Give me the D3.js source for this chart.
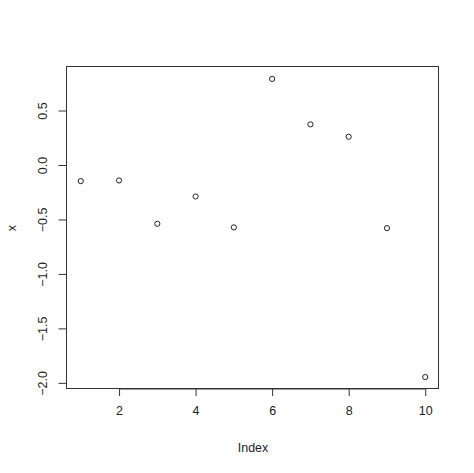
<!DOCTYPE html>
<html>
<head>
<meta charset="utf-8">
<script src="https://cdn.jsdelivr.net/npm/d3@7"></script>
<style>
  body { margin: 0; background: #fff; }
  svg { display: block; }
  text { font-family: "Liberation Sans", Arial, sans-serif; fill: #222; }
</style>
</head>
<body>
<div id="chart"></div>
<script>
// values
const index = [1, 2, 3, 4, 5, 6, 7, 8, 9, 10];
const xValues = [-0.148, -0.142, -0.540, -0.289, -0.573, 0.790, 0.373, 0.259, -0.580, -1.947];
const xTicks = [2, 4, 6, 8, 10];
const yTicks = [-2.0, -1.5, -1.0, -0.5, 0.0, 0.5];

const width = 474, height = 473;
const box = {left: 67, right: 439, top: 67, bottom: 389};

var svg = d3.select("#chart")
    .append("svg")
    .attr("width", width)
    .attr("height", height);

// R style 4% extension of the data range
var xr = d3.extent(index), yr = d3.extent(xValues);
var xPad = (xr[1] - xr[0]) * 0.04, yPad = (yr[1] - yr[0]) * 0.04;

var x = d3.scaleLinear()
    .domain([xr[0] - xPad, xr[1] + xPad])
    .range([box.left, box.right]);

var y = d3.scaleLinear()
    .domain([yr[0] - yPad, yr[1] + yPad])
    .range([box.bottom, box.top]);

// bottom axis (only spans the ticks, like base R)
var xAxis = svg.append("g")
    .attr("transform", `translate(0, ${box.bottom})`)
    .call(d3.axisBottom(x).tickValues(xTicks).tickSize(7).tickPadding(10).tickFormat(d3.format("d")));
xAxis.select(".domain")
    .attr("d", `M${x(xTicks[0])},0H${x(xTicks[xTicks.length - 1])}`);

// left axis
var yAxis = svg.append("g")
    .attr("transform", `translate(${box.left - 0.5}, 0)`)
    .call(d3.axisLeft(y).tickValues(yTicks).tickSize(8).tickFormat(d3.format(".1f")));
yAxis.select(".domain")
    .attr("d", `M0,${y(yTicks[0])}V${y(yTicks[yTicks.length - 1])}`);
yAxis.selectAll(".tick text")
    .attr("x", 0)
    .attr("dy", 0)
    .attr("transform", "translate(-24, 0) rotate(-90)")
    .style("text-anchor", "middle")
    .attr("dominant-baseline", "central");

svg.selectAll(".tick text")
    .style("font-size", "12.5px")
    .attr("fill", "#222");
svg.selectAll(".domain, .tick line")
    .attr("stroke", "#333");

// plot box
svg.append("rect")
    .attr("x", box.left - 0.5)
    .attr("y", box.top - 0.5)
    .attr("width", box.right - box.left)
    .attr("height", box.bottom - box.top)
    .attr("fill", "none")
    .attr("stroke", "#333")
    .attr("stroke-width", 1);

// points
svg.selectAll("circle.pt")
    .data(index)
    .enter()
    .append("circle")
    .attr("class", "pt")
    .attr("cx", function(d) { return x(d); })
    .attr("cy", function(d, i) { return y(xValues[i]); })
    .attr("r", 2.6)
    .attr("fill", "none")
    .attr("stroke", "#222")
    .attr("stroke-width", 1);

// axis labels
svg.append("text")
    .attr("x", (box.left + box.right) / 2)
    .attr("y", 452)
    .style("text-anchor", "middle")
    .style("font-size", "12.5px")
    .text("Index");

svg.append("text")
    .attr("transform", `translate(16, ${(box.top + box.bottom) / 2}) rotate(-90)`)
    .style("text-anchor", "middle")
    .style("font-size", "12.5px")
    .text("x");
</script>
</body>
</html>
